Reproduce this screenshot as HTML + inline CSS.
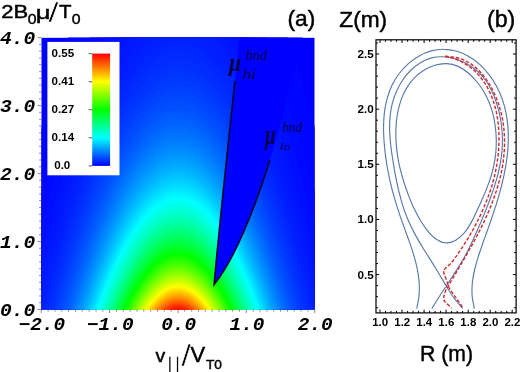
<!DOCTYPE html>
<html><head><meta charset="utf-8"><title>figure</title>
<style>html,body{margin:0;padding:0;background:#fff}body{width:520px;height:372px;overflow:hidden;position:relative}svg{position:absolute;left:0;top:0;display:block}.sans{font-family:"Liberation Sans",sans-serif;fill:#000;stroke:#000;stroke-width:.45px}.sl{font-family:"Liberation Sans",sans-serif;fill:#000;stroke:#fff;stroke-width:.55px}.mono{font-family:"Liberation Mono",monospace;font-weight:bold;font-style:italic;fill:#000}.bs{font-family:"Liberation Sans",sans-serif;font-weight:bold;fill:#000}.seri{font-family:"Liberation Serif",serif;font-style:italic;fill:#02023c}.serbi{font-family:"Liberation Serif",serif;font-style:italic;font-weight:bold;fill:#02023c}</style></head><body>
<svg width="520" height="372" viewBox="0 0 520 372">
<defs><clipPath id="hc"><rect x="41.3" y="37.6" width="273.4" height="271.9"/></clipPath>
<linearGradient id="cb" x1="0" y1="1" x2="0" y2="0"><stop offset="0" stop-color="#0000ff"/><stop offset=".25" stop-color="#00ffff"/><stop offset=".5" stop-color="#00ff00"/><stop offset=".75" stop-color="#ffff00"/><stop offset="1" stop-color="#ff0000"/></linearGradient></defs>
<g clip-path="url(#hc)">
<rect x="41.3" y="37.6" width="273.4" height="271.9" fill="#0000ff"/>
<path d="M-1.3 309.5Q178.0 -563.1 357.3 309.5Z" fill="#0005ff"/>
<path d="M12.7 309.5Q178.0 -450.9 343.3 309.5Z" fill="#0009ff"/>
<path d="M21.2 309.5Q178.0 -385.3 334.8 309.5Z" fill="#000eff"/>
<path d="M27.5 309.5Q178.0 -338.8 328.5 309.5Z" fill="#0013ff"/>
<path d="M32.5 309.5Q178.0 -302.7 323.5 309.5Z" fill="#0017ff"/>
<path d="M36.6 309.5Q178.0 -273.2 319.4 309.5Z" fill="#001cff"/>
<path d="M40.2 309.5Q178.0 -248.3 315.8 309.5Z" fill="#0020ff"/>
<path d="M43.4 309.5Q178.0 -226.7 312.6 309.5Z" fill="#0025ff"/>
<path d="M46.2 309.5Q178.0 -207.6 309.8 309.5Z" fill="#002aff"/>
<path d="M48.8 309.5Q178.0 -190.6 307.2 309.5Z" fill="#002eff"/>
<path d="M51.1 309.5Q178.0 -175.2 304.9 309.5Z" fill="#0033ff"/>
<path d="M53.3 309.5Q178.0 -161.1 302.7 309.5Z" fill="#0038ff"/>
<path d="M55.4 309.5Q178.0 -148.1 300.6 309.5Z" fill="#003cff"/>
<path d="M57.3 309.5Q178.0 -136.1 298.7 309.5Z" fill="#0041ff"/>
<path d="M59.0 309.5Q178.0 -125.0 297.0 309.5Z" fill="#0046ff"/>
<path d="M60.7 309.5Q178.0 -114.5 295.3 309.5Z" fill="#004aff"/>
<path d="M62.3 309.5Q178.0 -104.7 293.7 309.5Z" fill="#004fff"/>
<path d="M63.9 309.5Q178.0 -95.5 292.1 309.5Z" fill="#0053ff"/>
<path d="M65.3 309.5Q178.0 -86.7 290.7 309.5Z" fill="#0058ff"/>
<path d="M66.7 309.5Q178.0 -78.4 289.3 309.5Z" fill="#005dff"/>
<path d="M68.1 309.5Q178.0 -70.5 287.9 309.5Z" fill="#0061ff"/>
<path d="M69.3 309.5Q178.0 -63.0 286.7 309.5Z" fill="#0066ff"/>
<path d="M70.6 309.5Q178.0 -55.8 285.4 309.5Z" fill="#006bff"/>
<path d="M71.8 309.5Q178.0 -48.9 284.2 309.5Z" fill="#006fff"/>
<path d="M72.9 309.5Q178.0 -42.3 283.1 309.5Z" fill="#0074ff"/>
<path d="M74.0 309.5Q178.0 -36.0 282.0 309.5Z" fill="#0079ff"/>
<path d="M75.1 309.5Q178.0 -29.9 280.9 309.5Z" fill="#007dff"/>
<path d="M76.2 309.5Q178.0 -24.0 279.8 309.5Z" fill="#0082ff"/>
<path d="M77.2 309.5Q178.0 -18.3 278.8 309.5Z" fill="#0086ff"/>
<path d="M78.2 309.5Q178.0 -12.8 277.8 309.5Z" fill="#008bff"/>
<path d="M79.2 309.5Q178.0 -7.5 276.8 309.5Z" fill="#0090ff"/>
<path d="M80.1 309.5Q178.0 -2.4 275.9 309.5Z" fill="#0094ff"/>
<path d="M81.0 309.5Q178.0 2.6 275.0 309.5Z" fill="#0099ff"/>
<path d="M81.9 309.5Q178.0 7.4 274.1 309.5Z" fill="#009eff"/>
<path d="M82.8 309.5Q178.0 12.1 273.2 309.5Z" fill="#00a2ff"/>
<path d="M83.7 309.5Q178.0 16.7 272.3 309.5Z" fill="#00a7ff"/>
<path d="M84.5 309.5Q178.0 21.1 271.5 309.5Z" fill="#00acff"/>
<path d="M85.3 309.5Q178.0 25.4 270.7 309.5Z" fill="#00b0ff"/>
<path d="M86.2 309.5Q178.0 29.6 269.8 309.5Z" fill="#00b5ff"/>
<path d="M87.0 309.5Q178.0 33.7 269.0 309.5Z" fill="#00b9ff"/>
<path d="M87.7 309.5Q178.0 37.7 268.3 309.5Z" fill="#00beff"/>
<path d="M88.5 309.5Q178.0 41.6 267.5 309.5Z" fill="#00c3ff"/>
<path d="M89.2 309.5Q178.0 45.4 266.8 309.5Z" fill="#00c7ff"/>
<path d="M90.0 309.5Q178.0 49.1 266.0 309.5Z" fill="#00ccff"/>
<path d="M90.7 309.5Q178.0 52.8 265.3 309.5Z" fill="#00d1ff"/>
<path d="M91.4 309.5Q178.0 56.3 264.6 309.5Z" fill="#00d5ff"/>
<path d="M92.1 309.5Q178.0 59.8 263.9 309.5Z" fill="#00daff"/>
<path d="M92.8 309.5Q178.0 63.2 263.2 309.5Z" fill="#00dfff"/>
<path d="M93.5 309.5Q178.0 66.5 262.5 309.5Z" fill="#00e3ff"/>
<path d="M94.2 309.5Q178.0 69.8 261.8 309.5Z" fill="#00e8ff"/>
<path d="M94.8 309.5Q178.0 73.0 261.2 309.5Z" fill="#00ecff"/>
<path d="M95.5 309.5Q178.0 76.2 260.5 309.5Z" fill="#00f1ff"/>
<path d="M96.1 309.5Q178.0 79.2 259.9 309.5Z" fill="#00f6ff"/>
<path d="M96.8 309.5Q178.0 82.3 259.2 309.5Z" fill="#00faff"/>
<path d="M97.4 309.5Q178.0 85.2 258.6 309.5Z" fill="#00ffff"/>
<path d="M98.0 309.5Q178.0 88.1 258.0 309.5Z" fill="#00fffa"/>
<path d="M98.6 309.5Q178.0 91.0 257.4 309.5Z" fill="#00fff6"/>
<path d="M99.2 309.5Q178.0 93.8 256.8 309.5Z" fill="#00fff1"/>
<path d="M99.8 309.5Q178.0 96.6 256.2 309.5Z" fill="#00ffec"/>
<path d="M100.4 309.5Q178.0 99.3 255.6 309.5Z" fill="#00ffe8"/>
<path d="M101.0 309.5Q178.0 102.0 255.0 309.5Z" fill="#00ffe3"/>
<path d="M101.6 309.5Q178.0 104.6 254.4 309.5Z" fill="#00ffdf"/>
<path d="M102.1 309.5Q178.0 107.2 253.9 309.5Z" fill="#00ffda"/>
<path d="M102.7 309.5Q178.0 109.7 253.3 309.5Z" fill="#00ffd5"/>
<path d="M103.2 309.5Q178.0 112.3 252.8 309.5Z" fill="#00ffd1"/>
<path d="M103.8 309.5Q178.0 114.7 252.2 309.5Z" fill="#00ffcc"/>
<path d="M104.3 309.5Q178.0 117.2 251.7 309.5Z" fill="#00ffc7"/>
<path d="M104.9 309.5Q178.0 119.6 251.1 309.5Z" fill="#00ffc3"/>
<path d="M105.4 309.5Q178.0 121.9 250.6 309.5Z" fill="#00ffbe"/>
<path d="M106.0 309.5Q178.0 124.2 250.0 309.5Z" fill="#00ffb9"/>
<path d="M106.5 309.5Q178.0 126.5 249.5 309.5Z" fill="#00ffb5"/>
<path d="M107.0 309.5Q178.0 128.8 249.0 309.5Z" fill="#00ffb0"/>
<path d="M107.5 309.5Q178.0 131.0 248.5 309.5Z" fill="#00ffac"/>
<path d="M108.0 309.5Q178.0 133.2 248.0 309.5Z" fill="#00ffa7"/>
<path d="M108.5 309.5Q178.0 135.4 247.5 309.5Z" fill="#00ffa2"/>
<path d="M109.0 309.5Q178.0 137.5 247.0 309.5Z" fill="#00ff9e"/>
<path d="M109.5 309.5Q178.0 139.7 246.5 309.5Z" fill="#00ff99"/>
<path d="M110.0 309.5Q178.0 141.7 246.0 309.5Z" fill="#00ff94"/>
<path d="M110.5 309.5Q178.0 143.8 245.5 309.5Z" fill="#00ff90"/>
<path d="M111.0 309.5Q178.0 145.8 245.0 309.5Z" fill="#00ff8b"/>
<path d="M111.5 309.5Q178.0 147.9 244.5 309.5Z" fill="#00ff86"/>
<path d="M112.0 309.5Q178.0 149.8 244.0 309.5Z" fill="#00ff82"/>
<path d="M112.5 309.5Q178.0 151.8 243.5 309.5Z" fill="#00ff7d"/>
<path d="M112.9 309.5Q178.0 153.7 243.1 309.5Z" fill="#00ff79"/>
<path d="M113.4 309.5Q178.0 155.7 242.6 309.5Z" fill="#00ff74"/>
<path d="M113.9 309.5Q178.0 157.5 242.1 309.5Z" fill="#00ff6f"/>
<path d="M114.3 309.5Q178.0 159.4 241.7 309.5Z" fill="#00ff6b"/>
<path d="M114.8 309.5Q178.0 161.3 241.2 309.5Z" fill="#00ff66"/>
<path d="M115.3 309.5Q178.0 163.1 240.7 309.5Z" fill="#00ff61"/>
<path d="M115.7 309.5Q178.0 164.9 240.3 309.5Z" fill="#00ff5d"/>
<path d="M116.2 309.5Q178.0 166.7 239.8 309.5Z" fill="#00ff58"/>
<path d="M116.6 309.5Q178.0 168.5 239.4 309.5Z" fill="#00ff53"/>
<path d="M117.1 309.5Q178.0 170.2 238.9 309.5Z" fill="#00ff4f"/>
<path d="M117.5 309.5Q178.0 171.9 238.5 309.5Z" fill="#00ff4a"/>
<path d="M118.0 309.5Q178.0 173.6 238.0 309.5Z" fill="#00ff46"/>
<path d="M118.4 309.5Q178.0 175.3 237.6 309.5Z" fill="#00ff41"/>
<path d="M118.8 309.5Q178.0 177.0 237.2 309.5Z" fill="#00ff3c"/>
<path d="M119.3 309.5Q178.0 178.7 236.7 309.5Z" fill="#00ff38"/>
<path d="M119.7 309.5Q178.0 180.3 236.3 309.5Z" fill="#00ff33"/>
<path d="M120.2 309.5Q178.0 181.9 235.8 309.5Z" fill="#00ff2e"/>
<path d="M120.6 309.5Q178.0 183.6 235.4 309.5Z" fill="#00ff2a"/>
<path d="M121.0 309.5Q178.0 185.1 235.0 309.5Z" fill="#00ff25"/>
<path d="M121.4 309.5Q178.0 186.7 234.6 309.5Z" fill="#00ff20"/>
<path d="M121.9 309.5Q178.0 188.3 234.1 309.5Z" fill="#00ff1c"/>
<path d="M122.3 309.5Q178.0 189.8 233.7 309.5Z" fill="#00ff17"/>
<path d="M122.7 309.5Q178.0 191.4 233.3 309.5Z" fill="#00ff13"/>
<path d="M123.1 309.5Q178.0 192.9 232.9 309.5Z" fill="#00ff0e"/>
<path d="M123.5 309.5Q178.0 194.4 232.5 309.5Z" fill="#00ff09"/>
<path d="M124.0 309.5Q178.0 195.9 232.0 309.5Z" fill="#00ff05"/>
<path d="M124.4 309.5Q178.0 197.4 231.6 309.5Z" fill="#00ff00"/>
<path d="M124.8 309.5Q178.0 198.8 231.2 309.5Z" fill="#05ff00"/>
<path d="M125.2 309.5Q178.0 200.3 230.8 309.5Z" fill="#09ff00"/>
<path d="M125.6 309.5Q178.0 201.7 230.4 309.5Z" fill="#0eff00"/>
<path d="M126.0 309.5Q178.0 203.1 230.0 309.5Z" fill="#13ff00"/>
<path d="M126.4 309.5Q178.0 204.6 229.6 309.5Z" fill="#17ff00"/>
<path d="M126.8 309.5Q178.0 206.0 229.2 309.5Z" fill="#1cff00"/>
<path d="M127.2 309.5Q178.0 207.3 228.8 309.5Z" fill="#20ff00"/>
<path d="M127.6 309.5Q178.0 208.7 228.4 309.5Z" fill="#25ff00"/>
<path d="M128.0 309.5Q178.0 210.1 228.0 309.5Z" fill="#2aff00"/>
<path d="M128.4 309.5Q178.0 211.4 227.6 309.5Z" fill="#2eff00"/>
<path d="M128.8 309.5Q178.0 212.8 227.2 309.5Z" fill="#33ff00"/>
<path d="M129.2 309.5Q178.0 214.1 226.8 309.5Z" fill="#38ff00"/>
<path d="M129.6 309.5Q178.0 215.4 226.4 309.5Z" fill="#3cff00"/>
<path d="M130.0 309.5Q178.0 216.7 226.0 309.5Z" fill="#41ff00"/>
<path d="M130.4 309.5Q178.0 218.0 225.6 309.5Z" fill="#46ff00"/>
<path d="M130.8 309.5Q178.0 219.3 225.2 309.5Z" fill="#4aff00"/>
<path d="M131.2 309.5Q178.0 220.6 224.8 309.5Z" fill="#4fff00"/>
<path d="M131.6 309.5Q178.0 221.9 224.4 309.5Z" fill="#53ff00"/>
<path d="M132.0 309.5Q178.0 223.1 224.0 309.5Z" fill="#58ff00"/>
<path d="M132.4 309.5Q178.0 224.4 223.6 309.5Z" fill="#5dff00"/>
<path d="M132.8 309.5Q178.0 225.6 223.2 309.5Z" fill="#61ff00"/>
<path d="M133.2 309.5Q178.0 226.9 222.8 309.5Z" fill="#66ff00"/>
<path d="M133.6 309.5Q178.0 228.1 222.4 309.5Z" fill="#6bff00"/>
<path d="M134.0 309.5Q178.0 229.3 222.0 309.5Z" fill="#6fff00"/>
<path d="M134.4 309.5Q178.0 230.5 221.6 309.5Z" fill="#74ff00"/>
<path d="M134.7 309.5Q178.0 231.7 221.3 309.5Z" fill="#79ff00"/>
<path d="M135.1 309.5Q178.0 232.9 220.9 309.5Z" fill="#7dff00"/>
<path d="M135.5 309.5Q178.0 234.0 220.5 309.5Z" fill="#82ff00"/>
<path d="M135.9 309.5Q178.0 235.2 220.1 309.5Z" fill="#86ff00"/>
<path d="M136.3 309.5Q178.0 236.4 219.7 309.5Z" fill="#8bff00"/>
<path d="M136.7 309.5Q178.0 237.5 219.3 309.5Z" fill="#90ff00"/>
<path d="M137.1 309.5Q178.0 238.7 218.9 309.5Z" fill="#94ff00"/>
<path d="M137.5 309.5Q178.0 239.8 218.5 309.5Z" fill="#99ff00"/>
<path d="M137.8 309.5Q178.0 240.9 218.2 309.5Z" fill="#9eff00"/>
<path d="M138.2 309.5Q178.0 242.1 217.8 309.5Z" fill="#a2ff00"/>
<path d="M138.6 309.5Q178.0 243.2 217.4 309.5Z" fill="#a7ff00"/>
<path d="M139.0 309.5Q178.0 244.3 217.0 309.5Z" fill="#acff00"/>
<path d="M139.4 309.5Q178.0 245.4 216.6 309.5Z" fill="#b0ff00"/>
<path d="M139.8 309.5Q178.0 246.5 216.2 309.5Z" fill="#b5ff00"/>
<path d="M140.2 309.5Q178.0 247.5 215.8 309.5Z" fill="#b9ff00"/>
<path d="M140.6 309.5Q178.0 248.6 215.4 309.5Z" fill="#beff00"/>
<path d="M140.9 309.5Q178.0 249.7 215.1 309.5Z" fill="#c3ff00"/>
<path d="M141.3 309.5Q178.0 250.7 214.7 309.5Z" fill="#c7ff00"/>
<path d="M141.7 309.5Q178.0 251.8 214.3 309.5Z" fill="#ccff00"/>
<path d="M142.1 309.5Q178.0 252.8 213.9 309.5Z" fill="#d1ff00"/>
<path d="M142.5 309.5Q178.0 253.9 213.5 309.5Z" fill="#d5ff00"/>
<path d="M142.9 309.5Q178.0 254.9 213.1 309.5Z" fill="#daff00"/>
<path d="M143.3 309.5Q178.0 255.9 212.7 309.5Z" fill="#dfff00"/>
<path d="M143.7 309.5Q178.0 257.0 212.3 309.5Z" fill="#e3ff00"/>
<path d="M144.1 309.5Q178.0 258.0 211.9 309.5Z" fill="#e8ff00"/>
<path d="M144.5 309.5Q178.0 259.0 211.5 309.5Z" fill="#ecff00"/>
<path d="M144.8 309.5Q178.0 260.0 211.2 309.5Z" fill="#f1ff00"/>
<path d="M145.2 309.5Q178.0 261.0 210.8 309.5Z" fill="#f6ff00"/>
<path d="M145.6 309.5Q178.0 262.0 210.4 309.5Z" fill="#faff00"/>
<path d="M146.0 309.5Q178.0 263.0 210.0 309.5Z" fill="#ffff00"/>
<path d="M146.4 309.5Q178.0 263.9 209.6 309.5Z" fill="#fffa00"/>
<path d="M146.8 309.5Q178.0 264.9 209.2 309.5Z" fill="#fff600"/>
<path d="M147.2 309.5Q178.0 265.9 208.8 309.5Z" fill="#fff100"/>
<path d="M147.6 309.5Q178.0 266.8 208.4 309.5Z" fill="#ffec00"/>
<path d="M148.0 309.5Q178.0 267.8 208.0 309.5Z" fill="#ffe800"/>
<path d="M148.4 309.5Q178.0 268.7 207.6 309.5Z" fill="#ffe300"/>
<path d="M148.8 309.5Q178.0 269.7 207.2 309.5Z" fill="#ffdf00"/>
<path d="M149.2 309.5Q178.0 270.6 206.8 309.5Z" fill="#ffda00"/>
<path d="M149.6 309.5Q178.0 271.6 206.4 309.5Z" fill="#ffd500"/>
<path d="M150.1 309.5Q178.0 272.5 205.9 309.5Z" fill="#ffd100"/>
<path d="M150.5 309.5Q178.0 273.4 205.5 309.5Z" fill="#ffcc00"/>
<path d="M150.9 309.5Q178.0 274.3 205.1 309.5Z" fill="#ffc700"/>
<path d="M151.3 309.5Q178.0 275.2 204.7 309.5Z" fill="#ffc300"/>
<path d="M151.7 309.5Q178.0 276.1 204.3 309.5Z" fill="#ffbe00"/>
<path d="M152.1 309.5Q178.0 277.0 203.9 309.5Z" fill="#ffb900"/>
<path d="M152.6 309.5Q178.0 277.9 203.4 309.5Z" fill="#ffb500"/>
<path d="M153.0 309.5Q178.0 278.8 203.0 309.5Z" fill="#ffb000"/>
<path d="M153.4 309.5Q178.0 279.7 202.6 309.5Z" fill="#ffac00"/>
<path d="M153.8 309.5Q178.0 280.6 202.2 309.5Z" fill="#ffa700"/>
<path d="M154.3 309.5Q178.0 281.5 201.7 309.5Z" fill="#ffa200"/>
<path d="M154.7 309.5Q178.0 282.3 201.3 309.5Z" fill="#ff9e00"/>
<path d="M155.2 309.5Q178.0 283.2 200.8 309.5Z" fill="#ff9900"/>
<path d="M155.6 309.5Q178.0 284.1 200.4 309.5Z" fill="#ff9400"/>
<path d="M156.0 309.5Q178.0 284.9 200.0 309.5Z" fill="#ff9000"/>
<path d="M156.5 309.5Q178.0 285.8 199.5 309.5Z" fill="#ff8b00"/>
<path d="M157.0 309.5Q178.0 286.6 199.0 309.5Z" fill="#ff8600"/>
<path d="M157.4 309.5Q178.0 287.5 198.6 309.5Z" fill="#ff8200"/>
<path d="M157.9 309.5Q178.0 288.3 198.1 309.5Z" fill="#ff7d00"/>
<path d="M158.4 309.5Q178.0 289.2 197.6 309.5Z" fill="#ff7900"/>
<path d="M158.8 309.5Q178.0 290.0 197.2 309.5Z" fill="#ff7400"/>
<path d="M159.3 309.5Q178.0 290.8 196.7 309.5Z" fill="#ff6f00"/>
<path d="M159.8 309.5Q178.0 291.6 196.2 309.5Z" fill="#ff6b00"/>
<path d="M160.3 309.5Q178.0 292.5 195.7 309.5Z" fill="#ff6600"/>
<path d="M160.8 309.5Q178.0 293.3 195.2 309.5Z" fill="#ff6100"/>
<path d="M161.3 309.5Q178.0 294.1 194.7 309.5Z" fill="#ff5d00"/>
<path d="M161.8 309.5Q178.0 294.9 194.2 309.5Z" fill="#ff5800"/>
<path d="M162.4 309.5Q178.0 295.7 193.6 309.5Z" fill="#ff5300"/>
<path d="M162.9 309.5Q178.0 296.5 193.1 309.5Z" fill="#ff4f00"/>
<path d="M163.4 309.5Q178.0 297.3 192.6 309.5Z" fill="#ff4a00"/>
<path d="M164.0 309.5Q178.0 298.1 192.0 309.5Z" fill="#ff4600"/>
<path d="M164.6 309.5Q178.0 298.9 191.4 309.5Z" fill="#ff4100"/>
<path d="M165.2 309.5Q178.0 299.6 190.8 309.5Z" fill="#ff3c00"/>
<path d="M165.8 309.5Q178.0 300.4 190.2 309.5Z" fill="#ff3800"/>
<path d="M166.4 309.5Q178.0 301.2 189.6 309.5Z" fill="#ff3300"/>
<path d="M167.1 309.5Q178.0 302.0 188.9 309.5Z" fill="#ff2e00"/>
<path d="M167.7 309.5Q178.0 302.7 188.3 309.5Z" fill="#ff2a00"/>
<path d="M168.4 309.5Q178.0 303.5 187.6 309.5Z" fill="#ff2500"/>
<path d="M169.2 309.5Q178.0 304.3 186.8 309.5Z" fill="#ff2000"/>
<path d="M169.9 309.5Q178.0 305.0 186.1 309.5Z" fill="#ff1c00"/>
<path d="M170.8 309.5Q178.0 305.8 185.2 309.5Z" fill="#ff1700"/>
<path d="M171.7 309.5Q178.0 306.5 184.3 309.5Z" fill="#ff1300"/>
<path d="M172.7 309.5Q178.0 307.3 183.3 309.5Z" fill="#ff0e00"/>
<path d="M173.8 309.5Q178.0 308.0 182.2 309.5Z" fill="#ff0900"/>
<path d="M175.2 309.5Q178.0 308.8 180.8 309.5Z" fill="#ff0500"/>
<path d="M214.1 284.6Q219.6 222.0 235.0 81.0L240.2 30.0L306.9 17.2Q260.5 226.1 214.1 284.6Z" fill="#0000ff"/>
<path d="M235.0 81.0Q219.6 222.0 214.1 284.6Q242.0 249.4 269.9 159.8" fill="none" stroke="#05052a" stroke-width="1.6" stroke-linejoin="miter"/>
</g>
<path d="M37.7 309.5h3.6M39.1 302.7h2.2M39.1 295.9h2.2M39.1 289.1h2.2M39.1 282.3h2.2M39.1 275.5h2.2M39.1 268.7h2.2M39.1 261.9h2.2M39.1 255.1h2.2M39.1 248.3h2.2M37.7 241.5h3.6M39.1 234.7h2.2M39.1 227.9h2.2M39.1 221.1h2.2M39.1 214.3h2.2M39.1 207.5h2.2M39.1 200.7h2.2M39.1 193.9h2.2M39.1 187.1h2.2M39.1 180.3h2.2M37.7 173.6h3.6M39.1 166.8h2.2M39.1 160.0h2.2M39.1 153.2h2.2M39.1 146.4h2.2M39.1 139.6h2.2M39.1 132.8h2.2M39.1 126.0h2.2M39.1 119.2h2.2M39.1 112.4h2.2M37.7 105.6h3.6M39.1 98.8h2.2M39.1 92.0h2.2M39.1 85.2h2.2M39.1 78.4h2.2M39.1 71.6h2.2M39.1 64.8h2.2M39.1 58.0h2.2M39.1 51.2h2.2M39.1 44.4h2.2M37.7 37.6h3.6M41.3 309.5v3.6M48.1 309.5v2.2M55.0 309.5v2.2M61.8 309.5v2.2M68.6 309.5v2.2M75.5 309.5v2.2M82.3 309.5v2.2M89.1 309.5v2.2M96.0 309.5v2.2M102.8 309.5v2.2M109.6 309.5v3.6M116.5 309.5v2.2M123.3 309.5v2.2M130.2 309.5v2.2M137.0 309.5v2.2M143.8 309.5v2.2M150.7 309.5v2.2M157.5 309.5v2.2M164.3 309.5v2.2M171.2 309.5v2.2M178.0 309.5v3.6M184.8 309.5v2.2M191.7 309.5v2.2M198.5 309.5v2.2M205.3 309.5v2.2M212.2 309.5v2.2M219.0 309.5v2.2M225.8 309.5v2.2M232.7 309.5v2.2M239.5 309.5v2.2M246.3 309.5v3.6M253.2 309.5v2.2M260.0 309.5v2.2M266.9 309.5v2.2M273.7 309.5v2.2M280.5 309.5v2.2M287.4 309.5v2.2M294.2 309.5v2.2M301.0 309.5v2.2M307.9 309.5v2.2M314.7 309.5v3.6" stroke="#5a5a50" stroke-width="0.7" fill="none"/>
<rect x="47.4" y="41.9" width="72.1" height="133.4" fill="#fff"/>
<rect x="92.2" y="53.6" width="17.9" height="112.3" fill="url(#cb)"/>
<text class="bs" transform="translate(51.60 57.00) scale(1.064 1)" font-size="10.90">0.55</text>
<text class="bs" transform="translate(51.60 85.07) scale(1.064 1)" font-size="10.90">0.41</text>
<text class="bs" transform="translate(51.60 113.14) scale(1.064 1)" font-size="10.90">0.27</text>
<text class="bs" transform="translate(51.60 141.21) scale(1.064 1)" font-size="10.90">0.14</text>
<text class="bs" transform="translate(54.20 169.28) scale(1.064 1)" font-size="10.90">0.0</text>
<path d="M88.6 53.6h3.6M88.6 81.7h3.6M88.6 109.7h3.6M88.6 137.8h3.6M88.6 165.9h3.6" stroke="#333" stroke-width="0.8" fill="none"/>
<text class="mono" transform="translate(0.10 44.10) scale(1.101 1)" font-size="17.80">4.0</text>
<text class="mono" transform="translate(0.10 112.08) scale(1.101 1)" font-size="17.80">3.0</text>
<text class="mono" transform="translate(0.10 180.05) scale(1.101 1)" font-size="17.80">2.0</text>
<text class="mono" transform="translate(0.10 248.03) scale(1.101 1)" font-size="17.80">1.0</text>
<text class="mono" transform="translate(0.10 316.00) scale(1.101 1)" font-size="17.80">0.0</text>
<text class="mono" transform="translate(41.90 330.00) scale(1.090 1)" font-size="17.80" text-anchor="middle">−2.0</text>
<text class="mono" transform="translate(110.25 330.00) scale(1.090 1)" font-size="17.80" text-anchor="middle">−1.0</text>
<text class="mono" transform="translate(178.60 330.00) scale(1.090 1)" font-size="17.80" text-anchor="middle">0.0</text>
<text class="mono" transform="translate(246.95 330.00) scale(1.090 1)" font-size="17.80" text-anchor="middle">1.0</text>
<text class="mono" transform="translate(315.30 330.00) scale(1.090 1)" font-size="17.80" text-anchor="middle">2.0</text>
<g><text class="sans" transform="translate(1.30 18.10) scale(1.198 1)" font-size="18.40">2B</text><text class="sans" transform="translate(27.70 24.06) scale(1.121 1)" font-size="14.10">0</text><text class="sans" transform="translate(35.70 18.60) scale(1.347 1)" font-size="19.00">μ</text><text class="sl" transform="translate(48.30 21.90) scale(1.379 1)" font-size="27.20">/</text><text class="sans" transform="translate(59.00 18.10) scale(1.096 1)" font-size="18.70">T</text><text class="sans" transform="translate(71.80 24.06) scale(1.121 1)" font-size="14.10">0</text></g>
<text class="sans" transform="translate(287.44 26.15) scale(1.027 1)" font-size="22.13">(a)</text>
<text class="sans" transform="translate(339.32 26.99) scale(1.010 1)" font-size="22.45">Z(m)</text>
<text class="sans" transform="translate(486.91 27.45) scale(1.004 1)" font-size="23.09">(b)</text>
<text class="sans" transform="translate(420.10 360.74) scale(0.935 1)" font-size="22.66">R (m)</text>
<g><text class="sans" transform="translate(155.60 361.60) scale(1.072 1)" font-size="18.10">v</text><text class="sans" transform="translate(168.14 369.47) scale(0.700 1)" font-size="16.81" style="letter-spacing:0.4em">||</text><text class="sl" transform="translate(181.30 365.50) scale(1.203 1)" font-size="29.10">/</text><text class="sans" transform="translate(190.58 361.60) scale(1.033 1)" font-size="21.30">V</text><text class="sans" transform="translate(205.92 368.76) scale(1.009 1)" font-size="13.66">T0</text></g>
<g><text class="serbi" transform="translate(229.07 71.40) scale(0.864 1)" font-size="25.22">μ</text><text class="seri" transform="translate(245.43 59.65) scale(0.959 1)" font-size="14.86">bnd</text><text class="seri" transform="translate(242.30 78.60) scale(1.169 1)" font-size="15.07">hi</text></g>
<g><text class="serbi" transform="translate(264.95 143.95) scale(0.710 1)" font-size="26.42">μ</text><text class="seri" transform="translate(282.17 132.46) scale(0.935 1)" font-size="14.14">bnd</text><text class="seri" transform="translate(279.61 150.20) scale(1.329 1)" font-size="10.43">lo</text></g>
<rect x="376.0" y="39.8" width="140.1" height="273.1" fill="#fff" stroke="#000" stroke-width="1.2"/>
<path d="M380.0 312.9v-3.2M380.0 39.8v3.2M385.5 312.9v-2.0M385.5 39.8v2.0M391.0 312.9v-2.0M391.0 39.8v2.0M396.5 312.9v-2.0M396.5 39.8v2.0M402.0 312.9v-3.2M402.0 39.8v3.2M407.6 312.9v-2.0M407.6 39.8v2.0M413.1 312.9v-2.0M413.1 39.8v2.0M418.6 312.9v-2.0M418.6 39.8v2.0M424.1 312.9v-3.2M424.1 39.8v3.2M429.6 312.9v-2.0M429.6 39.8v2.0M435.1 312.9v-2.0M435.1 39.8v2.0M440.6 312.9v-2.0M440.6 39.8v2.0M446.1 312.9v-3.2M446.1 39.8v3.2M451.6 312.9v-2.0M451.6 39.8v2.0M457.1 312.9v-2.0M457.1 39.8v2.0M462.6 312.9v-2.0M462.6 39.8v2.0M468.2 312.9v-3.2M468.2 39.8v3.2M473.7 312.9v-2.0M473.7 39.8v2.0M479.2 312.9v-2.0M479.2 39.8v2.0M484.7 312.9v-2.0M484.7 39.8v2.0M490.2 312.9v-3.2M490.2 39.8v3.2M495.7 312.9v-2.0M495.7 39.8v2.0M501.2 312.9v-2.0M501.2 39.8v2.0M506.7 312.9v-2.0M506.7 39.8v2.0M512.2 312.9v-3.2M512.2 39.8v3.2M376.0 307.7h2.0M516.1 307.7h-2.0M376.0 296.7h2.0M516.1 296.7h-2.0M376.0 285.6h2.0M516.1 285.6h-2.0M376.0 274.6h3.2M516.1 274.6h-3.2M376.0 263.6h2.0M516.1 263.6h-2.0M376.0 252.5h2.0M516.1 252.5h-2.0M376.0 241.5h2.0M516.1 241.5h-2.0M376.0 230.5h2.0M516.1 230.5h-2.0M376.0 219.4h3.2M516.1 219.4h-3.2M376.0 208.4h2.0M516.1 208.4h-2.0M376.0 197.4h2.0M516.1 197.4h-2.0M376.0 186.4h2.0M516.1 186.4h-2.0M376.0 175.3h2.0M516.1 175.3h-2.0M376.0 164.3h3.2M516.1 164.3h-3.2M376.0 153.3h2.0M516.1 153.3h-2.0M376.0 142.2h2.0M516.1 142.2h-2.0M376.0 131.2h2.0M516.1 131.2h-2.0M376.0 120.2h2.0M516.1 120.2h-2.0M376.0 109.2h3.2M516.1 109.2h-3.2M376.0 98.1h2.0M516.1 98.1h-2.0M376.0 87.1h2.0M516.1 87.1h-2.0M376.0 76.1h2.0M516.1 76.1h-2.0M376.0 65.0h2.0M516.1 65.0h-2.0M376.0 54.0h3.2M516.1 54.0h-3.2M376.0 43.0h2.0M516.1 43.0h-2.0" stroke="#000" stroke-width="1" fill="none"/>
<text class="bs" transform="translate(380.20 326.20) scale(1.036 1)" font-size="11.10" text-anchor="middle">1.0</text>
<text class="bs" transform="translate(402.24 326.20) scale(1.036 1)" font-size="11.10" text-anchor="middle">1.2</text>
<text class="bs" transform="translate(424.28 326.20) scale(1.036 1)" font-size="11.10" text-anchor="middle">1.4</text>
<text class="bs" transform="translate(446.32 326.20) scale(1.036 1)" font-size="11.10" text-anchor="middle">1.6</text>
<text class="bs" transform="translate(468.36 326.20) scale(1.036 1)" font-size="11.10" text-anchor="middle">1.8</text>
<text class="bs" transform="translate(490.40 326.20) scale(1.036 1)" font-size="11.10" text-anchor="middle">2.0</text>
<text class="bs" transform="translate(512.44 326.20) scale(1.036 1)" font-size="11.10" text-anchor="middle">2.2</text>
<text class="bs" transform="translate(357.50 57.95) scale(1.035 1)" font-size="11.30">2.5</text>
<text class="bs" transform="translate(357.50 113.10) scale(1.035 1)" font-size="11.30">2.0</text>
<text class="bs" transform="translate(357.50 168.25) scale(1.035 1)" font-size="11.30">1.5</text>
<text class="bs" transform="translate(357.50 223.40) scale(1.035 1)" font-size="11.30">1.0</text>
<text class="bs" transform="translate(357.50 278.55) scale(1.035 1)" font-size="11.30">0.5</text>
<g fill="none" stroke="#5a79aa" stroke-width="1.15">
<path d="M416.7 308.7C417.1 306.4 418.7 299.5 419.1 295.0C419.5 290.5 419.4 286.0 419.1 281.6C418.7 277.1 418.0 272.7 417.2 268.4C416.3 264.0 415.1 259.6 413.8 255.3C412.6 251.0 411.1 246.7 409.6 242.4C408.1 238.1 406.5 233.9 405.0 229.6C403.5 225.4 401.9 221.1 400.4 216.9C399.0 212.7 397.6 208.5 396.3 204.2C395.0 200.0 393.8 195.7 392.6 191.5C391.5 187.2 390.5 182.9 389.5 178.6C388.6 174.2 387.7 169.9 387.0 165.5C386.2 161.1 385.6 156.6 385.1 152.1C384.6 147.6 384.1 143.0 383.9 138.4C383.6 133.8 383.5 129.1 383.6 124.6C383.7 120.0 384.0 115.3 384.6 110.8C385.3 106.3 386.1 101.9 387.4 97.6C388.6 93.3 390.2 89.0 392.1 85.0C394.1 81.0 396.5 77.1 399.2 73.5C401.9 70.0 405.1 66.6 408.4 63.6C411.7 60.7 415.4 58.0 419.2 55.9C423.0 53.7 427.1 52.0 431.3 50.9C435.4 49.8 439.7 49.2 444.0 49.3C448.3 49.3 452.7 50.1 457.0 51.3C461.2 52.6 465.4 54.4 469.3 56.7C473.2 58.9 476.8 61.7 480.2 64.8C483.6 67.9 486.7 71.4 489.4 75.1C492.2 78.7 494.7 82.8 496.8 86.8C499.0 90.9 500.8 95.1 502.3 99.4C503.8 103.6 505.0 108.0 505.9 112.3C506.8 116.7 507.4 121.1 507.8 125.6C508.2 130.0 508.4 134.5 508.3 138.9C508.3 143.4 508.0 147.9 507.6 152.3C507.2 156.8 506.5 161.2 505.8 165.7C505.1 170.1 504.2 174.5 503.2 178.8C502.2 183.2 501.1 187.5 499.9 191.9C498.7 196.2 497.4 200.5 496.1 204.8C494.7 209.1 493.3 213.4 491.8 217.7C490.4 222.0 488.9 226.2 487.4 230.5C485.9 234.8 484.3 239.0 482.8 243.3C481.3 247.6 479.8 251.8 478.4 256.1C477.1 260.4 475.8 264.7 474.8 269.0C473.8 273.3 472.9 277.6 472.4 282.0C472.0 286.4 471.8 290.7 472.1 295.2C472.4 299.6 474.0 306.3 474.3 308.6"/>
<path d="M395.9 136.0C395.8 131.9 395.9 127.6 396.2 123.4C396.6 119.3 397.2 115.1 398.0 111.0C398.9 106.9 400.0 102.9 401.4 99.1C402.8 95.2 404.5 91.5 406.6 88.1C408.7 84.6 411.1 81.3 413.9 78.4C416.7 75.5 420.0 72.8 423.5 70.6C427.0 68.4 430.9 66.5 434.8 65.3C438.6 64.1 442.8 63.4 446.7 63.6C450.5 63.8 454.5 64.8 458.1 66.4C461.8 68.1 465.3 70.6 468.6 73.2C471.8 75.9 474.8 79.2 477.5 82.5C480.1 85.8 482.4 89.3 484.5 92.8C486.5 96.4 488.2 100.0 489.7 103.8C491.1 107.5 492.3 111.4 493.3 115.4C494.2 119.4 494.9 123.5 495.4 127.6C496.0 131.7 496.2 136.0 496.3 140.1C496.3 144.3 496.2 148.5 495.8 152.6C495.4 156.7 494.8 160.7 494.0 164.6C493.2 168.6 492.1 172.4 491.0 176.3C489.8 180.1 488.5 183.8 487.0 187.6C485.6 191.4 484.0 195.1 482.3 199.0C480.7 202.8 478.9 206.6 477.1 210.5C475.3 214.3 473.5 218.4 471.4 222.1C469.3 225.8 467.1 229.6 464.5 232.7C461.8 235.7 458.6 238.7 455.4 240.4C452.1 242.1 448.2 243.2 444.8 242.8C441.4 242.5 438.0 240.6 434.9 238.3C431.8 236.0 428.9 232.5 426.3 229.1C423.6 225.7 421.2 221.6 419.0 217.9C416.8 214.2 415.0 210.4 413.2 206.7C411.5 202.9 410.0 199.2 408.5 195.4C407.1 191.6 405.7 187.8 404.5 184.0C403.2 180.2 402.1 176.3 401.1 172.4C400.0 168.5 399.1 164.5 398.4 160.5C397.7 156.5 397.0 152.5 396.6 148.4C396.2 144.3 395.9 140.2 395.9 136.0Z"/>
<path d="M431.9 308.5C433.0 306.7 436.2 301.4 438.4 298.0C440.6 294.5 442.9 291.0 445.2 287.5C447.5 284.0 449.8 280.6 452.1 277.1C454.3 273.6 456.6 270.1 458.8 266.6C460.9 263.0 463.1 259.5 465.0 255.9C467.0 252.3 468.9 248.7 470.7 245.0C472.4 241.3 474.1 237.6 475.8 233.8C477.4 230.1 479.0 226.3 480.7 222.5C482.3 218.6 483.9 214.8 485.5 210.9C487.0 207.0 488.6 203.1 490.0 199.2C491.4 195.3 492.8 191.4 494.1 187.4C495.4 183.4 496.6 179.4 497.6 175.4C498.6 171.4 499.5 167.4 500.3 163.4C501.0 159.3 501.6 155.3 502.0 151.2C502.3 147.1 502.5 143.0 502.4 138.9C502.4 134.8 502.1 130.7 501.6 126.6C501.2 122.5 500.5 118.5 499.6 114.4C498.7 110.4 497.6 106.3 496.3 102.4C495.0 98.4 493.5 94.5 491.7 90.7C489.9 87.0 487.9 83.3 485.4 80.0C482.9 76.7 480.0 73.5 476.9 70.8C473.7 68.0 470.1 65.5 466.4 63.5C462.7 61.5 458.7 59.8 454.7 58.7C450.7 57.6 446.6 56.9 442.6 56.8C438.6 56.7 434.6 57.1 430.8 58.1C427.0 59.1 423.4 60.8 420.0 62.9C416.6 65.0 413.4 67.6 410.5 70.5C407.6 73.4 404.9 76.8 402.6 80.3C400.2 83.8 398.1 87.7 396.4 91.5C394.7 95.3 393.4 99.4 392.3 103.4C391.3 107.4 390.6 111.4 390.2 115.5C389.7 119.6 389.6 123.7 389.6 127.8C389.6 132.0 389.9 136.1 390.2 140.3C390.6 144.4 391.2 148.6 391.7 152.7C392.3 156.9 393.0 161.0 393.7 165.1C394.3 169.2 395.0 173.3 395.8 177.4C396.6 181.4 397.5 185.4 398.4 189.4C399.4 193.4 400.4 197.4 401.5 201.3C402.7 205.2 403.9 209.1 405.3 213.0C406.8 216.8 408.3 220.6 410.0 224.3C411.7 228.1 413.7 231.7 415.6 235.4C417.6 239.0 419.8 242.6 421.9 246.2C424.1 249.8 426.4 253.4 428.6 256.9C430.8 260.4 433.1 264.0 435.2 267.5C437.4 271.0 439.5 274.6 441.6 278.1C443.7 281.6 445.7 285.1 447.8 288.6C450.0 292.0 452.2 295.5 454.7 298.8C457.2 302.1 461.4 306.9 462.7 308.5"/>
</g>
<g fill="none" stroke="#d8262c" stroke-width="1.4" stroke-dasharray="3.5 1.8">
<path d="M445.1 55.8C446.5 56.2 451.0 57.3 453.7 58.3C456.4 59.3 459.0 60.4 461.4 61.7C463.9 62.9 466.2 64.3 468.3 65.9C470.5 67.4 472.5 69.0 474.5 70.8C476.4 72.6 478.1 74.5 479.8 76.4C481.5 78.4 483.0 80.5 484.4 82.6C485.9 84.8 487.2 87.1 488.4 89.4C489.6 91.7 490.6 94.1 491.6 96.6C492.6 99.0 493.5 101.5 494.3 104.1C495.0 106.7 495.7 109.3 496.3 111.9C496.8 114.6 497.3 117.3 497.7 120.0C498.1 122.7 498.4 125.4 498.6 128.2C498.8 130.9 499.0 133.7 499.0 136.4C499.1 139.2 499.0 141.9 498.9 144.7C498.8 147.4 498.6 150.1 498.4 152.8C498.1 155.6 497.8 158.3 497.4 160.9C497.0 163.6 496.6 166.3 496.0 169.0C495.5 171.6 494.9 174.3 494.3 176.9C493.6 179.5 492.9 182.2 492.2 184.7C491.4 187.3 490.6 189.9 489.7 192.5C488.8 195.1 487.9 197.6 486.9 200.1C485.9 202.6 484.9 205.2 483.8 207.6C482.8 210.1 481.7 212.6 480.5 215.0C479.3 217.5 478.1 219.9 476.9 222.3C475.7 224.7 474.4 227.1 473.1 229.5C471.8 231.8 470.4 234.1 469.1 236.5C467.7 238.8 466.3 241.1 464.8 243.3C463.4 245.6 462.0 247.8 460.5 250.0C459.0 252.2 457.5 254.4 456.0 256.6C454.4 258.7 453.0 261.1 451.3 262.9C449.7 264.8 447.5 266.3 446.2 267.6C444.9 268.9 444.1 269.5 443.8 270.6C443.5 271.8 443.8 272.8 444.3 274.5C444.8 276.2 446.1 278.9 446.9 281.1C447.7 283.4 447.7 285.2 449.2 288.0C450.7 290.8 453.8 294.6 456.1 297.9C458.4 301.2 461.9 306.2 463.0 307.9"/>
<path d="M445.4 56.7C446.8 56.8 451.1 56.7 453.8 57.1C456.5 57.5 459.1 58.2 461.6 59.1C464.1 60.0 466.4 61.2 468.7 62.5C471.0 63.8 473.1 65.4 475.1 67.1C477.2 68.8 479.1 70.7 480.9 72.7C482.7 74.7 484.4 76.9 486.0 79.1C487.6 81.3 489.1 83.7 490.5 86.1C491.9 88.5 493.2 91.0 494.3 93.5C495.5 96.0 496.5 98.5 497.5 101.1C498.4 103.7 499.3 106.3 500.0 108.9C500.8 111.5 501.4 114.1 502.0 116.8C502.6 119.4 503.0 122.1 503.4 124.8C503.8 127.4 504.0 130.1 504.2 132.8C504.4 135.5 504.5 138.2 504.5 140.9C504.6 143.6 504.5 146.3 504.4 149.0C504.2 151.7 504.0 154.4 503.7 157.0C503.5 159.7 503.1 162.4 502.7 165.0C502.2 167.7 501.7 170.3 501.2 173.0C500.6 175.6 500.0 178.2 499.3 180.8C498.6 183.4 497.9 186.0 497.1 188.6C496.3 191.2 495.4 193.7 494.5 196.3C493.6 198.8 492.7 201.4 491.7 203.9C490.7 206.4 489.7 209.0 488.6 211.5C487.5 214.0 486.4 216.5 485.3 218.9C484.1 221.4 482.9 223.9 481.7 226.4C480.5 228.8 479.3 231.3 478.0 233.7C476.8 236.1 475.5 238.6 474.2 241.0C472.9 243.4 471.6 245.8 470.2 248.2C468.9 250.6 467.6 252.9 466.2 255.3C464.9 257.7 463.5 260.0 462.1 262.4C460.8 264.7 459.4 267.0 458.0 269.4C456.7 271.7 455.3 274.0 454.0 276.3C452.6 278.6 451.2 280.9 449.9 283.2C448.6 285.4 446.9 287.8 445.9 289.9C445.0 292.1 444.3 294.4 444.0 296.0C443.7 297.6 443.5 298.6 443.9 299.8C444.3 301.0 445.0 301.9 446.3 303.2C447.6 304.5 450.6 307.1 451.5 307.9"/>
</g>
</svg></body></html>
